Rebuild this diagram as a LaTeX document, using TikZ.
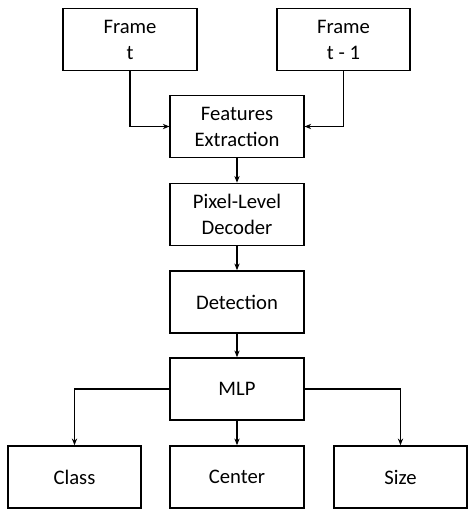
\documentclass[tikz,border=0pt]{standalone}
\usepackage{fontspec}
\setmainfont{Carlito}
\usetikzlibrary{arrows.meta}
\definecolor{flowLine}{HTML}{000000}
\tikzset{
  flowfig/.style={
    x=0.75pt, y=-0.75pt,
    every node/.append style={font=\fontsize{15.5}{19.5}\selectfont},
    >={Stealth[length=5pt, width=4pt]},
  },
  stagebox/.style={
    draw=flowLine, line width=1.3pt, fill=white, align=center,
    inner sep=2pt, minimum width=100pt, minimum height=46.5pt,
  },
  flow/.style={draw=flowLine, line width=1pt, ->},
}

\begin{document}
\begin{tikzpicture}[flowfig]
  \useasboundingbox (0,0) rectangle (474,515);
  % Eingaben
  \node[stagebox] (frameT)  at (130,39.5)  {Frame\\t};
  \node[stagebox] (framePrev) at (343.5,39.5) {Frame\\t - 1};
  % Verarbeitungskette
  \node[stagebox] (features) at (237,126.5) {Features\\Extraction};
  \node[stagebox] (decoder)  at (237,214.5) {Pixel-Level\\Decoder};
  \node[stagebox] (detect)   at (237,302)   {Detection};
  \node[stagebox] (mlp)      at (237,389)   {MLP};
  % Ausgaben
  \node[stagebox] (cls)    at (74.5,477)  {Class};
  \node[stagebox] (center) at (237,477)   {Center};
  \node[stagebox] (size)   at (400.5,477) {Size};

  \draw[flow] (frameT.south) |- (features.west);
  \draw[flow] (framePrev.south) |- (features.east);
  \draw[flow] (features) -- (decoder);
  \draw[flow] (decoder) -- (detect);
  \draw[flow] (detect) -- (mlp);
  \draw[flow] (mlp.west) -| (cls.north);
  \draw[flow] (mlp) -- (center);
  \draw[flow] (mlp.east) -| (size.north);
\end{tikzpicture}
\end{document}
